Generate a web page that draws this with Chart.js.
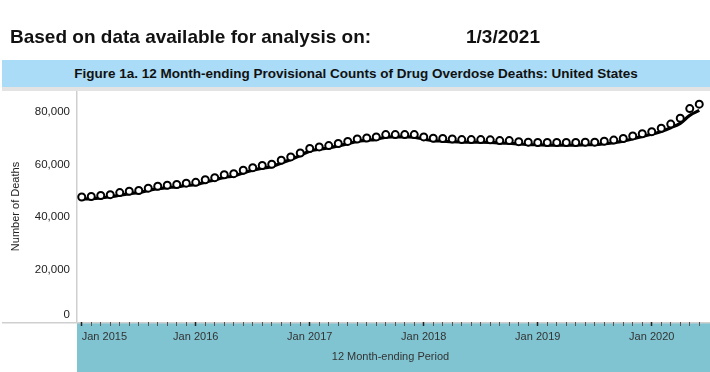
<!DOCTYPE html>
<html>
<head>
<meta charset="utf-8">
<script src="https://cdn.jsdelivr.net/npm/chart.js@4/dist/chart.umd.min.js"></script>
<style>
  body { margin: 0; background: #fff; font-family: "Liberation Sans", Arial, sans-serif; }
  #wrap { position: relative; width: 710px; height: 372px; overflow: hidden; }
  #grafico { position: absolute; left: 0; top: 0; }
  .cab { position: absolute; top: 27px; font-weight: bold; font-size: 19px; line-height: 19px; color: #111; }
  #banda { position: absolute; left: 2px; top: 60px; width: 708px; height: 27px; background: #aadcf7;
           text-align: center; font-weight: bold; font-size: 13.5px; line-height: 27px; color: #111; }
  #sep { position: absolute; left: 2px; top: 87px; width: 708px; height: 4px; background: #e3e3e3; }
</style>
</head>
<body>
<div id="wrap">
  <canvas id="grafico" width="710" height="372"></canvas>
  <div class="cab" style="left:10px">Based on data available for analysis on:</div>
  <div class="cab" style="left:466px">1/3/2021</div>
  <div id="banda">Figure 1a. 12 Month-ending Provisional Counts of Drug Overdose Deaths: United States</div>
  <div id="sep"></div>
</div>
<script>
const meses = ['Jan', 'Feb', 'Mar', 'Apr', 'May', 'Jun', 'Jul', 'Aug', 'Sep', 'Oct', 'Nov', 'Dec'];
const anios = [2015, 2016, 2017, 2018, 2019, 2020];
const periodos = anios.flatMap(a => meses.map(m => `${m} ${a}`)).slice(0, 66);

// circulos (predicted)
const predichos = [
  47600, 47800, 48200, 48500, 49300, 49800, 50100, 51000, 51700, 52100, 52400, 52900,
  53200, 54200, 55000, 56100, 56500, 57800, 58800, 59600, 60100, 61600, 62900, 64400,
  66100, 66700, 67200, 68000, 68800, 69700, 70100, 70500, 71400, 71400, 71400, 71400,
  70500, 70000, 69900, 69700, 69500, 69500, 69500, 69400, 69100, 69100, 68700, 68500,
  68400, 68400, 68400, 68400, 68400, 68500, 68500, 68900, 69300, 69900, 70900, 71700,
  72500, 73800, 75400, 77600, 81300, 83000
];

// linea (reported)
const reportados = [
  46800, 47000, 47300, 47700, 48300, 48900, 49300, 50100, 50800, 51200, 51500, 52000,
  52300, 53300, 54100, 55100, 55600, 56800, 57800, 58600, 59200, 60600, 61900, 63400,
  65100, 65800, 66300, 67100, 67900, 68800, 69200, 69600, 70400, 70500, 70500, 70400,
  69600, 69100, 68900, 68700, 68600, 68500, 68500, 68400, 68200, 68100, 67800, 67600,
  67500, 67400, 67400, 67400, 67400, 67500, 67600, 67900, 68300, 68900, 69800, 70700,
  71500, 72600, 74000, 75700, 78700, 80600
];

const ticksY = [0, 20000, 40000, 60000, 80000];
const maxY = 88000;

const fuente = '"Liberation Sans", Arial, sans-serif';

const fondos = {
  id: 'fondos',
  beforeDraw(chart) {
    const { ctx, chartArea } = chart;
    ctx.save();
    ctx.fillStyle = '#80c4d2';
    ctx.fillRect(chartArea.left, chartArea.bottom + 1, chart.width - chartArea.left, chart.height - chartArea.bottom);
    ctx.fillStyle = '#cfcfcf';
    ctx.fillRect(2, chartArea.bottom, chart.width - 2, 1.5);
    ctx.restore();
  },
  afterDraw(chart) {
    // la etiqueta 0 va un poco por encima del eje
    const { ctx } = chart;
    const y = chart.scales.y;
    ctx.save();
    ctx.font = `11.5px ${fuente}`;
    ctx.fillStyle = '#222';
    ctx.textAlign = 'right';
    ctx.textBaseline = 'middle';
    ctx.fillText('0', y.right - 7, y.getPixelForValue(0) - 7);
    ctx.restore();
  }
};

new Chart(document.getElementById('grafico'), {
  type: 'line',
  data: {
    labels: periodos,
    datasets: [
      {
        label: 'Predicted',
        data: predichos,
        showLine: false,
        pointRadius: 3.5,
        pointBorderWidth: 2,
        pointBorderColor: '#000',
        pointBackgroundColor: '#fff'
      },
      {
        label: 'Reported',
        data: reportados,
        borderColor: '#000',
        borderWidth: 3.2,
        tension: 0.4,
        pointRadius: 0
      }
    ]
  },
  options: {
    responsive: false,
    animation: false,
    layout: { padding: { top: 91, left: 0, right: 0, bottom: 0 } },
    plugins: { legend: { display: false }, tooltip: { enabled: false } },
    scales: {
      x: {
        offset: true,
        afterFit: s => { s.height = 50; },
        grid: {
          display: true,
          drawOnChartArea: false,
          tickLength: 4,
          tickColor: c => (periodos[c.index] || '').startsWith('Jan') ? '#222' : '#555',
          tickWidth: c => (periodos[c.index] || '').startsWith('Jan') ? 1.5 : 1
        },
        border: { display: false },
        ticks: {
          autoSkip: false,
          maxRotation: 0,
          align: 'inner',
          padding: 4,
          color: '#333',
          font: { family: fuente, size: 11 },
          callback: function (v, i) { return periodos[i].startsWith('Jan') ? periodos[i] : ''; }
        },
        title: {
          display: true,
          text: '12 Month-ending Period',
          color: '#333',
          font: { family: fuente, size: 11 },
          padding: { top: 0, bottom: 8 }
        }
      },
      y: {
        min: 0,
        max: maxY,
        afterFit: s => { s.width = 77; },
        afterBuildTicks: s => { s.ticks = ticksY.map(v => ({ value: v })); },
        grid: { display: false, drawTicks: false },
        border: { display: true, color: '#cfcfcf', width: 1.5 },
        ticks: {
          padding: 7,
          color: '#222',
          font: { family: fuente, size: 11.5 },
          callback: v => v === 0 ? '' : v.toLocaleString('en-US')
        },
        title: {
          display: true,
          text: 'Number of Deaths',
          color: '#222',
          font: { family: fuente, size: 11 },
          padding: { top: 9, bottom: 0 }
        }
      }
    }
  },
  plugins: [fondos]
});
</script>
</body>
</html>
